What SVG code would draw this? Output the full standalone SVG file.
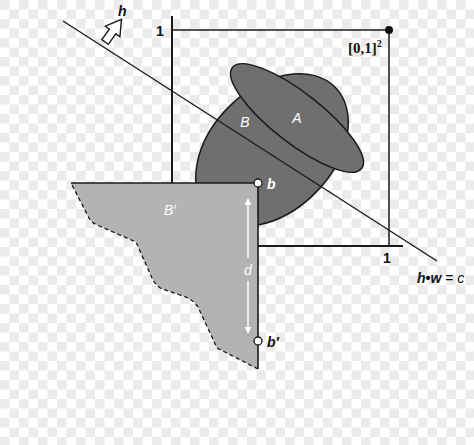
<svg xmlns="http://www.w3.org/2000/svg" width="474" height="445" viewBox="0 0 474 445">
<defs>
<pattern id="chk" x="0" y="0" width="19" height="19" patternUnits="userSpaceOnUse">
<rect width="19" height="19" fill="#ffffff"/>
<rect width="9.5" height="9.5" fill="#ebebeb"/>
<rect x="9.5" y="9.5" width="9.5" height="9.5" fill="#ebebeb"/>
</pattern>
<marker id="wh" viewBox="0 0 10 10" refX="9" refY="5" markerWidth="4.5" markerHeight="6" markerUnits="strokeWidth" orient="auto-start-reverse">
<path d="M0,0 L10,5 L0,10 Z" fill="#ffffff"/>
</marker>
</defs>
<style>
.ax{stroke:#1a1a1a;fill:none;stroke-linecap:square}
.lbl{font-family:"Liberation Sans","Open Sans",sans-serif;font-size:14px}
.bi{font-weight:bold;font-style:italic}
.it{font-style:italic}
.wt{fill:#ffffff}
.bk{fill:#111111}
.pt{fill:#ffffff;stroke:#1a1a1a;stroke-width:1.3}
</style>
<rect width="474" height="445" fill="url(#chk)"/>

<g id="axes">
<line class="ax" x1="172" y1="17" x2="172" y2="246" stroke-width="2"/>
<line class="ax" x1="172" y1="246" x2="402" y2="246" stroke-width="2"/>
<line class="ax" x1="172" y1="30" x2="389" y2="30" stroke-width="1.5"/>
<line class="ax" x1="389" y1="30" x2="389" y2="246" stroke-width="1.5"/>
<circle cx="389" cy="30" r="4" fill="#111"/>
<text class="lbl bk" x="160" y="36" font-weight="bold" text-anchor="middle">1</text>
<text class="lbl bk" x="387" y="263" font-weight="bold" text-anchor="middle">1</text>
<text class="bk" x="348" y="53" font-family="'Liberation Serif',serif" font-size="15" font-weight="bold">[0,1]<tspan font-size="10" dy="-6">2</tspan></text>
</g>

<g id="setB">
<ellipse cx="272" cy="150" rx="89" ry="61" transform="rotate(-45 272 150)" fill="#6f6f6f" stroke="#1a1a1a" stroke-width="1.5"/>
<text class="lbl it wt" x="245" y="127" text-anchor="middle">B</text>
</g>

<g id="setA">
<ellipse cx="297" cy="118" rx="82" ry="25" transform="rotate(38 297 118)" fill="#6f6f6f" stroke="#1a1a1a" stroke-width="1.5"/>
<text class="lbl it wt" x="297" y="123" text-anchor="middle">A</text>
</g>

<g id="connectors">
<line x1="63" y1="21" x2="437" y2="261" stroke="#1a1a1a" stroke-width="1.4"/>
<path d="M-4,0 L-4,-13 L-9,-13 L0,-28 L9,-13 L4,-13 L4,0 Z" transform="translate(105 42) rotate(36)" fill="#ffffff" stroke="#1a1a1a" stroke-width="1.4" stroke-linejoin="miter"/>
</g>

<g id="setBprime">
<path d="M71,183 L258,183 L258,369 L217,348 L198,307 Q192,298 180,295 L162,289 Q155,285 152,278 L136,242 L97,225 Q91,222 89,218 Z" fill="#b3b3b3" stroke="none"/>
<path d="M258,369 L217,348 L198,307 Q192,298 180,295 L162,289 Q155,285 152,278 L136,242 L97,225 Q91,222 89,218 L71,183" fill="none" stroke="#1a1a1a" stroke-width="1.3" stroke-dasharray="4,3"/>
<path d="M71,183 L258,183 L258,369" fill="none" stroke="#1a1a1a" stroke-width="1.6"/>
<text class="lbl it wt" x="170" y="215" text-anchor="middle">B′</text>
</g>

<g id="distance">
<line x1="248" y1="258" x2="248" y2="199" stroke="#ffffff" stroke-width="1.5" marker-end="url(#wh)"/>
<line x1="248" y1="281" x2="248" y2="333" stroke="#ffffff" stroke-width="1.5" marker-end="url(#wh)"/>
<text class="lbl it wt" x="248" y="275" text-anchor="middle">d</text>
</g>

<g id="point-b">
<circle class="pt" cx="258" cy="183" r="4"/>
<text class="lbl bi wt" x="267" y="189">b</text>
</g>

<g id="point-bprime">
<circle class="pt" cx="258" cy="341" r="4"/>
<text class="lbl bi bk" x="267" y="347">b′</text>
</g>

<g id="labels">
<text class="lbl bi bk" x="118" y="16">h</text>
<text class="lbl bk" x="417" y="283"><tspan class="bi">h</tspan><tspan font-weight="bold">•</tspan><tspan class="bi">w</tspan> = <tspan class="it">c</tspan></text>
</g>
</svg>
